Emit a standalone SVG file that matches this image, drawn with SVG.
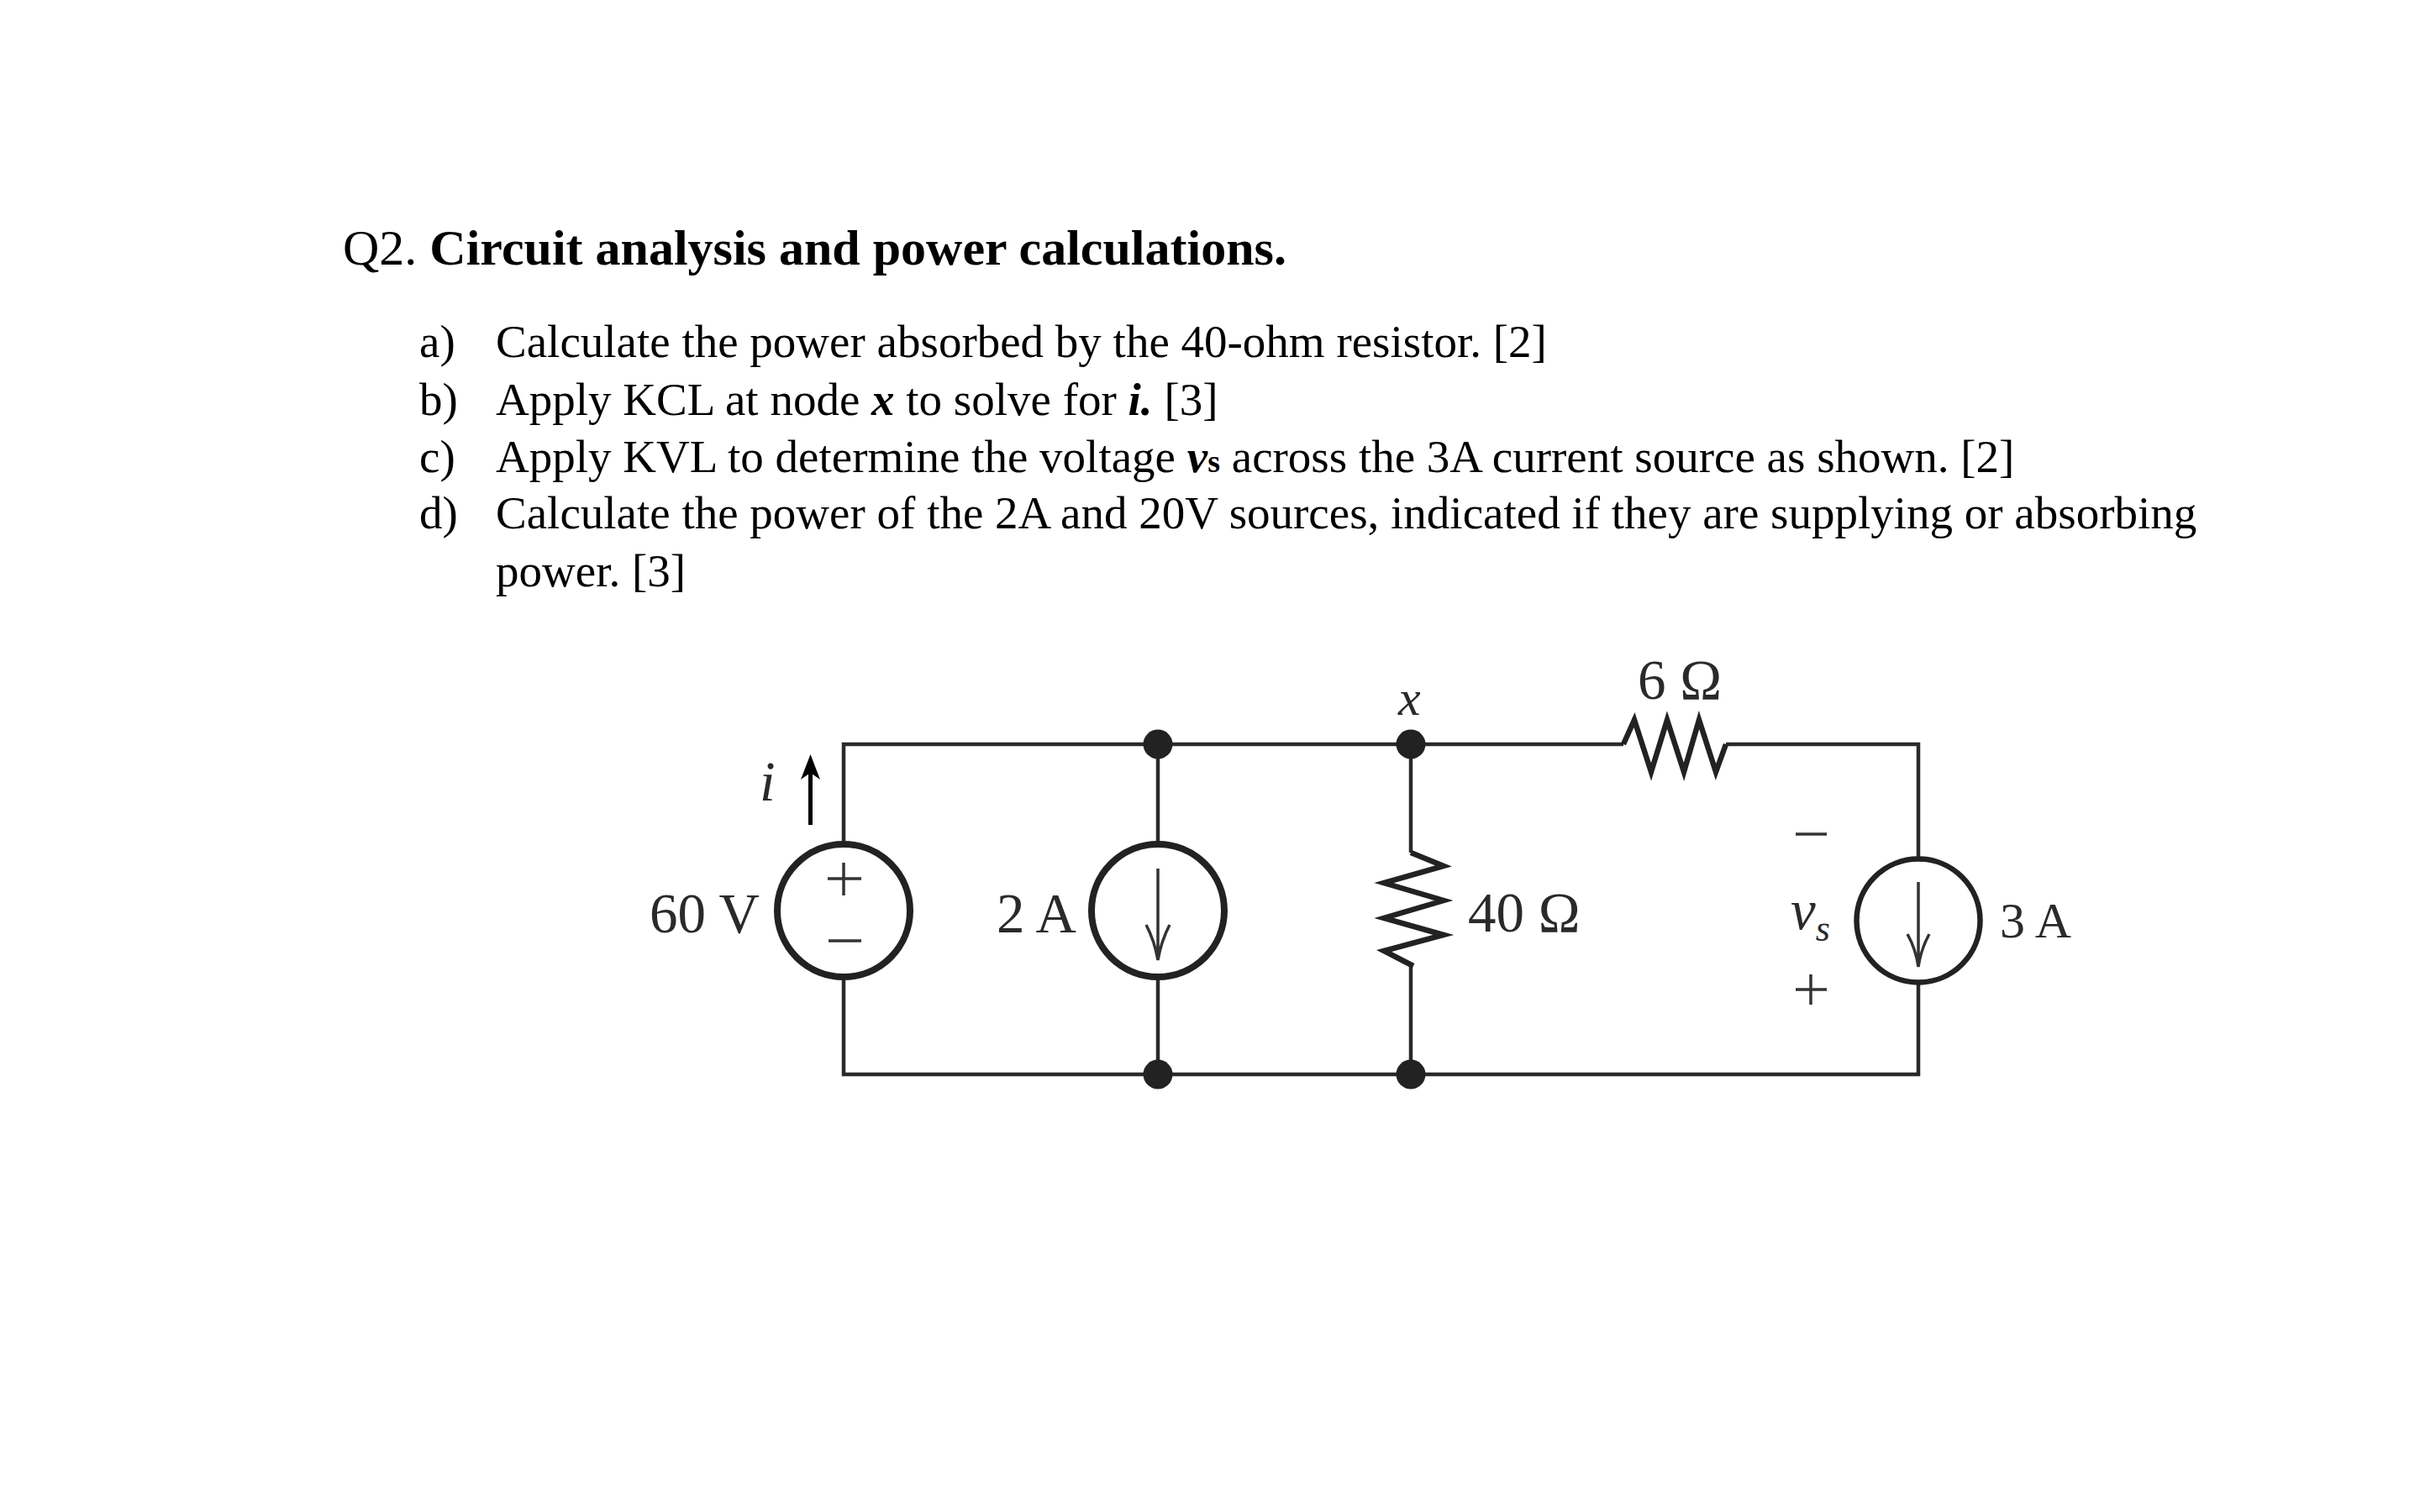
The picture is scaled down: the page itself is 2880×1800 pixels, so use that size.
<svg xmlns="http://www.w3.org/2000/svg" width="2880" height="1800" viewBox="0 0 2880 1800">
<style>
text{font-family:"Liberation Serif","Times New Roman",serif;fill:#111}
.h{font-size:60px;fill:#000}
.q{font-size:55px;fill:#000}
.c{font-size:67px;fill:#2a2a2a}
.w{fill:none;stroke:#2a2a2a;stroke-width:4.5}
.r{fill:none;stroke:#222;stroke-width:6.5}
.s{fill:#fff;stroke:#222;stroke-width:8}
.t{fill:none;stroke:#333;stroke-width:3.5}
.d{fill:#222}
</style>
<rect width="2880" height="1800" fill="#fff"/>
<g id="question">
<text class="h" x="408" y="315">Q2. <tspan font-weight="bold">Circuit analysis and power calculations.</tspan></text>
<text class="q" x="499" y="425">a)</text><text class="q" x="590" y="425">Calculate the power absorbed by the 40-ohm resistor. [2]</text>
<text class="q" x="499" y="494">b)</text><text class="q" x="590" y="494">Apply KCL at node <tspan font-weight="bold" font-style="italic">x</tspan> to solve for <tspan font-weight="bold" font-style="italic">i.</tspan> [3]</text>
<text class="q" x="499" y="562">c)</text><text class="q" x="590" y="562">Apply KVL to determine the voltage <tspan font-weight="bold" font-style="italic">v</tspan><tspan font-weight="bold" font-size="38">s</tspan> across the 3A current source as shown. [2]</text>
<text class="q" x="499" y="629">d)</text><text class="q" x="590" y="629">Calculate the power of the 2A and 20V sources, indicated if they are supplying or absorbing</text>
<text class="q" x="590" y="698">power. [3]</text>
</g>
<g id="connectors">
<path class="w" d="M1004 1003V886H1932M2054 886H2283V1022M2283 1170V1279H1004V1165"/>
<path class="w" d="M1378 886V1003M1378 1165V1279M1679 886V1015M1679 1150V1279"/>
</g>
<g id="resistor-6"><path class="r" d="M1932 886L1945 857L1965 919L1984 857L2004 919L2022 857L2042 919L2054 886"/><text class="c" x="1949" y="832">6 Ω</text></g>
<g id="resistor-40"><path class="r" d="M1679 1015L1718 1031L1647 1051L1718 1072L1647 1093L1718 1113L1647 1132L1682 1150"/><text class="c" x="1747" y="1109">40 Ω</text></g>
<g id="source-60v"><circle class="s" cx="1004" cy="1084" r="79"/><path class="t" d="M985 1046H1025M1004 1027V1066M986 1120H1025"/><text class="c" x="773" y="1110">60 V</text></g>
<g id="source-2a"><circle class="s" cx="1378" cy="1084" r="79"/><path class="t" d="M1378 1034V1143M1364 1101Q1374 1120 1378 1143Q1382 1120 1392 1101"/><text class="c" x="1186" y="1110">2 A</text></g>
<g id="source-3a"><circle class="s" cx="2283" cy="1096" r="73.5" style="stroke-width:6.5"/><path class="t" d="M2283 1050V1151M2270 1112Q2280 1130 2283 1151Q2286 1130 2296 1112"/><text class="c" x="2380" y="1116" style="font-size:60px">3 A</text></g>
<g id="node-top-1"><circle class="d" cx="1378" cy="886" r="17.5"/></g>
<g id="node-x"><circle class="d" cx="1679" cy="886" r="17.5"/><text class="c" x="1664" y="851" font-style="italic" style="font-size:60px">x</text></g>
<g id="node-bottom-1"><circle class="d" cx="1378" cy="1279" r="17.5"/></g>
<g id="node-bottom-2"><circle class="d" cx="1679" cy="1279" r="17.5"/></g>
<g id="current-i"><path d="M964.5 982V915" fill="none" stroke="#000" stroke-width="5"/><path d="M964.5 898L976 928L964.5 920L953 928Z" fill="#000"/><text class="c" x="904" y="953" font-style="italic">i</text></g>
<g id="voltage-vs"><path class="t" d="M2137 993H2174M2137 1178H2174M2155 1160V1196"/><text class="c" x="2131" y="1106" font-style="italic">v<tspan dy="14" style="font-size:44px">s</tspan></text></g>
</svg>
